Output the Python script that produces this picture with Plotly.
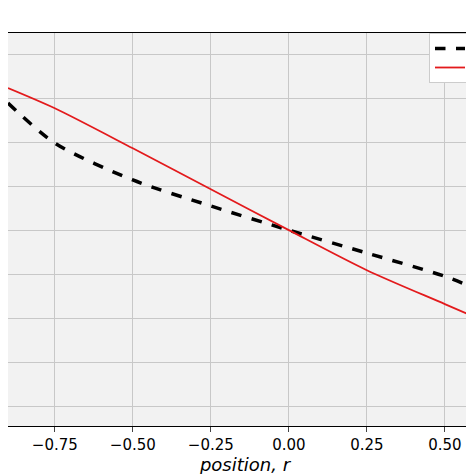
import plotly.graph_objects as go

# positions along r
r = [-0.9, -0.75, -0.5, -0.25, 0.0, 0.25, 0.5, 0.62]
# dashed black curve
curve_a = [2.89, 1.98, 1.14, 0.55, 0.0, -0.52, -1.05, -1.39]
# red curve
curve_b = [3.23, 2.77, 1.86, 0.93, 0.0, -0.91, -1.68, -2.05]

fig = go.Figure()
fig.add_trace(go.Scatter(x=r, y=curve_a, mode="lines", name="T",
                         line=dict(color="black", width=3.5, dash="dash", shape="spline", smoothing=0.8)))
fig.add_trace(go.Scatter(x=r, y=curve_b, mode="lines", name="T",
                         line=dict(color="#e31a1c", width=1.8, shape="spline", smoothing=0.8)))

fig.update_layout(
    width=474, height=474,
    margin=dict(l=0, r=0, t=25, b=56, pad=0),
    paper_bgcolor="white", plot_bgcolor="#f2f2f2",
    font=dict(family="DejaVu Sans", size=15, color="black"),
    showlegend=True,
    legend=dict(x=1, y=1, xanchor="right", yanchor="top", bgcolor="white",
                bordercolor="#cccccc", borderwidth=1, font=dict(size=8),
                itemwidth=30, tracegroupgap=0),
)
fig.update_xaxes(range=[-0.9, 0.619], tickvals=[-0.75, -0.5, -0.25, 0, 0.25, 0.5],
                 ticktext=["\u22120.75", "\u22120.50", "\u22120.25", "0.00", "0.25", "0.50"],
                 showgrid=True, gridcolor="#c8c8c8", zeroline=False, automargin=False,
                 showline=True, linecolor="black", mirror=True, ticks="outside",
                 title=dict(text="<i>position, r</i>", standoff=4))
fig.update_yaxes(range=[-4.45, 4.48], dtick=1, showticklabels=False, automargin=False,
                 showgrid=True, gridcolor="#c8c8c8", zeroline=False,
                 showline=True, linecolor="black", mirror=True)

fig.write_html("out.html")
